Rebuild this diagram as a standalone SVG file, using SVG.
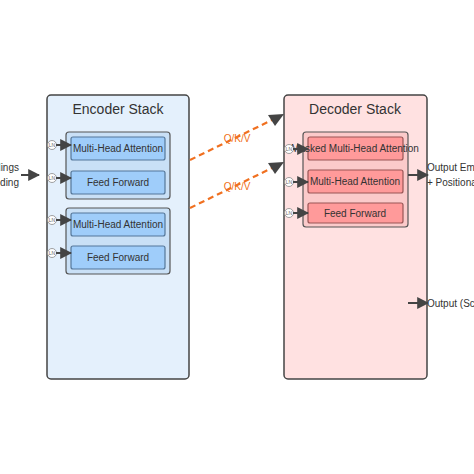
<svg xmlns="http://www.w3.org/2000/svg" width="474" height="474" viewBox="0 0 474 474">
<defs>
<marker id="ah" viewBox="0 0 10 10" refX="9" refY="5" markerWidth="6" markerHeight="6" orient="auto" markerUnits="userSpaceOnUse">
<path d="M0,0 L10,5 L0,10 z" fill="#444"/>
</marker>
<marker id="ahb" viewBox="0 0 10 10" refX="9" refY="5" markerWidth="12" markerHeight="12" orient="auto" markerUnits="userSpaceOnUse">
<path d="M0,0 L10,5 L0,10 z" fill="#444"/>
</marker>
<style>
text{font-family:"Liberation Sans",Arial,sans-serif;fill:#333}
.stack{stroke:#444;stroke-width:1.5}
.enc{fill:#e4f0fc}
.dec{fill:#ffe1e1}
.title{font-size:14px;text-anchor:middle}
.lay{stroke:#555;stroke-width:1.2}
.encl{fill:#c9e0f6}
.decl{fill:#fbcaca}
.eb{fill:#9fcdfa;stroke:#557799;stroke-width:1.2}
.db{fill:#ff9a9a;stroke:#995555;stroke-width:1.2}
.bt{font-size:10px;text-anchor:middle}
.ln{fill:#fff;stroke:#888;stroke-width:0.8}
.lnt{font-size:5px;text-anchor:middle;fill:#666}
.conn{stroke:#444;stroke-width:2;fill:none}
.dash{stroke:#f07020;stroke-width:2.2;stroke-dasharray:6,4;fill:none}
.lbl{font-size:10px}
.qkv{font-size:10px;fill:#f07020;text-anchor:middle}
</style>
</defs>

<g id="encoder">
<rect class="stack enc" x="47" y="95" width="142" height="284" rx="4"/>
<text class="title" x="118" y="114">Encoder Stack</text>
</g>
<g id="enc-layer1">
<rect class="lay encl" x="66" y="132" width="104" height="67" rx="3"/>
<rect class="eb" x="71" y="137" width="94" height="23" rx="2"/>
<text class="bt" x="118" y="152">Multi-Head Attention</text>
<rect class="eb" x="71" y="171" width="94" height="23" rx="2"/>
<text class="bt" x="118" y="186">Feed Forward</text>
</g>
<g id="enc-layer2">
<rect class="lay encl" x="66" y="208" width="104" height="66" rx="3"/>
<rect class="eb" x="71" y="213" width="94" height="23" rx="2"/>
<text class="bt" x="118" y="228">Multi-Head Attention</text>
<rect class="eb" x="71" y="246" width="94" height="23" rx="2"/>
<text class="bt" x="118" y="261">Feed Forward</text>
</g>

<g id="decoder">
<rect class="stack dec" x="284" y="95" width="143" height="284" rx="4"/>
<text class="title" x="355" y="114">Decoder Stack</text>
</g>
<g id="dec-layer">
<rect class="lay decl" x="303" y="132" width="105" height="95" rx="3"/>
<rect class="db" x="308" y="137" width="95" height="23" rx="2"/>
<text class="bt" x="355" y="152">Masked Multi-Head Attention</text>
<rect class="db" x="308" y="170" width="95" height="23" rx="2"/>
<text class="bt" x="355" y="185">Multi-Head Attention</text>
<rect class="db" x="308" y="203" width="95" height="20" rx="2"/>
<text class="bt" x="355" y="216.5">Feed Forward</text>
</g>

<g id="ln-nodes">
<circle class="ln" cx="52" cy="145" r="4.5"/><text class="lnt" x="52" y="147">LN</text>
<circle class="ln" cx="52" cy="178" r="4.5"/><text class="lnt" x="52" y="180">LN</text>
<circle class="ln" cx="52" cy="220" r="4.5"/><text class="lnt" x="52" y="222">LN</text>
<circle class="ln" cx="52" cy="253" r="4.5"/><text class="lnt" x="52" y="255">LN</text>
<circle class="ln" cx="289" cy="149" r="4.5"/><text class="lnt" x="289" y="151">LN</text>
<circle class="ln" cx="289" cy="182" r="4.5"/><text class="lnt" x="289" y="184">LN</text>
<circle class="ln" cx="289" cy="213" r="4.5"/><text class="lnt" x="289" y="215">LN</text>
</g>

<g id="io-labels">
<text class="lbl" x="19" y="171" text-anchor="end">Input Embeddings</text>
<text class="lbl" x="19" y="186" text-anchor="end">+ Positional Encoding</text>
<text class="lbl" x="427" y="171">Output Embeddings</text>
<text class="lbl" x="427" y="186">+ Positional Encoding</text>
<text class="lbl" x="427" y="307">Output (Scores)</text>
</g>

<g id="connectors">
<line class="conn" x1="21" y1="175" x2="39" y2="175" marker-end="url(#ahb)"/>
<line class="conn" x1="56" y1="145" x2="71" y2="145" marker-end="url(#ahb)"/>
<line class="conn" x1="56" y1="178" x2="71" y2="178" marker-end="url(#ahb)"/>
<line class="conn" x1="56" y1="220" x2="71" y2="220" marker-end="url(#ahb)"/>
<line class="conn" x1="56" y1="253" x2="71" y2="253" marker-end="url(#ahb)"/>
<line class="conn" x1="293" y1="149" x2="308" y2="149" marker-end="url(#ahb)"/>
<line class="conn" x1="293" y1="182" x2="308" y2="182" marker-end="url(#ahb)"/>
<line class="conn" x1="293" y1="213" x2="308" y2="213" marker-end="url(#ahb)"/>
<line class="conn" x1="408" y1="175" x2="428" y2="175" marker-end="url(#ahb)"/>
<line class="conn" x1="408" y1="303" x2="428" y2="303" marker-end="url(#ahb)"/>
<line class="dash" x1="190" y1="160" x2="276" y2="118"/>
<path d="M284,114 L268,115 L275,126 z" fill="#444"/>
<line class="dash" x1="190" y1="208" x2="276" y2="166"/>
<path d="M284,162 L268,163 L275,174 z" fill="#444"/>
<text class="qkv" x="237" y="142">Q/K/V</text>
<text class="qkv" x="237" y="190">Q/K/V</text>
</g>
</svg>
